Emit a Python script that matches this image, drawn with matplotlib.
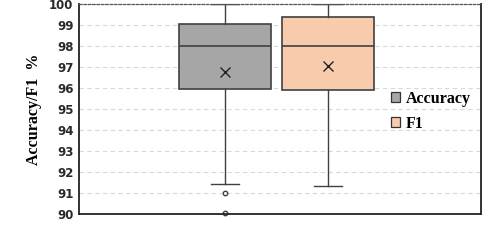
import matplotlib
matplotlib.use('Agg')
import matplotlib.pyplot as plt
from matplotlib.patches import Patch

# box statistics
labels = ['Accuracy', 'F1']
q1 = [95.97, 95.92]
med = [98.0, 98.0]
q3 = [99.08, 99.38]
means = [96.75, 97.07]
whislo = [91.43, 91.32]
whishi = [100.0, 100.0]
outliers = [[91.0, 90.05], []]
colors = ['#a6a6a6', '#f8cbad']
yticks = list(range(90, 101))

stats = []
for i, lab in enumerate(labels):
    stats.append(dict(label=lab, q1=q1[i], med=med[i], q3=q3[i],
                      mean=means[i], whislo=whislo[i], whishi=whishi[i],
                      fliers=outliers[i]))

fig = plt.figure(figsize=(5.0, 2.45), dpi=100)
ax = fig.add_axes([0.158, 0.127, 0.804, 0.855])

edge = '#404040'
bp = ax.bxp(stats, positions=[1, 2], widths=0.9, capwidths=0.27,
            showmeans=True, patch_artist=True,
            boxprops=dict(edgecolor=edge, linewidth=1.2),
            medianprops=dict(color=edge, linewidth=1.2),
            whiskerprops=dict(color=edge, linewidth=1.0),
            capprops=dict(color=edge, linewidth=1.0),
            meanprops=dict(marker='x', markeredgecolor='#222222',
                           markersize=6.5, markeredgewidth=1.0),
            flierprops=dict(marker='o', markersize=3.2, markerfacecolor='white',
                            markeredgecolor=edge, markeredgewidth=1.0))
for patch, c in zip(bp['boxes'], colors):
    patch.set_facecolor(c)
for f in bp['fliers']:
    f.set_clip_on(False)

ax.set_xlim(-0.417, 3.485)
ax.set_ylim(90, 100)
ax.set_yticks(yticks)
ax.set_yticklabels([str(t) for t in yticks], fontsize=8.5, fontweight='bold',
                   color='#2a2a2a', family='DejaVu Sans')
ax.set_xticks([])
ax.tick_params(axis='y', length=0, pad=4)
ax.yaxis.grid(True, linestyle=(0, (4, 3)), color='#d9d9d9', linewidth=0.8)
ax.set_axisbelow(True)

for s in ['left', 'bottom', 'right']:
    ax.spines[s].set_color('#222222')
    ax.spines[s].set_linewidth(1.3)
ax.spines['top'].set_linestyle((0, (2, 1.5)))
ax.spines['top'].set_color('#555555')
ax.spines['top'].set_linewidth(0.9)

ax.set_ylabel('Accuracy/F1  %', fontsize=11.5, fontweight='bold',
              family='Liberation Serif', labelpad=5)

handles = [Patch(facecolor=c, edgecolor='#333333', linewidth=0.9) for c in colors]
ax.legend(handles, labels, loc='upper left', bbox_to_anchor=(0.74, 0.655),
          frameon=False, handlelength=0.6, handleheight=0.6,
          handletextpad=0.35, labelspacing=0.55,
          prop=dict(family='Liberation Serif', weight='bold', size=11.5))

# figure caption, cut off at the bottom edge as in the source image
fig.text(0.0, 1 - 247 / 245, 'Fig. 11.  The distribution of the performance metrics and',
         fontsize=14, family='Liberation Serif', va='top', ha='left')

fig.savefig('out.png', dpi=100)
